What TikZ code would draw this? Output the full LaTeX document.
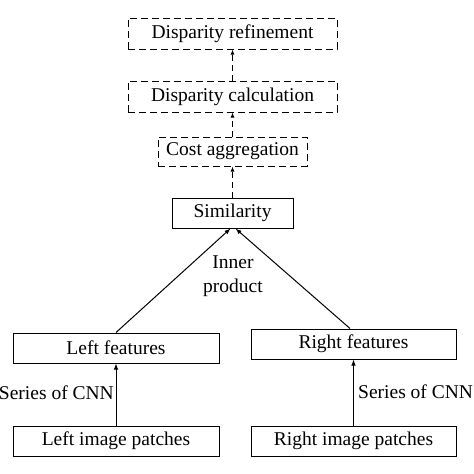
\documentclass[tikz,border=0pt]{standalone}
\usepackage{fontspec}
\setmainfont{Liberation Serif}
\usetikzlibrary{arrows.meta}
\begin{document}
\begin{tikzpicture}[x=1pt,y=-1pt,
  box/.style={draw, line width=1pt, inner sep=0pt, minimum height=30pt, font=\fontsize{19.5}{22}\selectfont},
  dbox/.style={box, dash pattern=on 7pt off 4pt},
  lbl/.style={inner sep=0pt, font=\fontsize{19.5}{24}\selectfont},
  arr/.style={-{Latex[length=6pt,width=4.5pt]}, line width=1pt},
  darr/.style={-{Latex[length=5pt,width=4pt]}, line width=1pt, dash pattern=on 6pt off 4pt}]
\useasboundingbox (0,0) rectangle (474,474);
\node[dbox, minimum width=209pt, minimum height=31pt] (ref) at (232.5,33.5) {Disparity refinement};
\node[dbox, minimum width=209pt, minimum height=31pt] (calc) at (232.5,96.5) {Disparity calculation};
\node[dbox, minimum width=149pt, minimum height=29pt] (cost) at (232.5,151.5) {Cost aggregation};
\node[box, minimum width=121pt] (sim) at (232.5,213) {Similarity};
\node[box, minimum width=206pt] (lf) at (116,348) {Left features};
\node[box, minimum width=205pt] (rf) at (353.5,344) {Right features};
\node[box, minimum width=206pt] (lp) at (116,441) {Left image patches};
\node[box, minimum width=205pt] (rp) at (353.5,441) {Right image patches};
\draw[darr] (calc.north) -- (ref.south);
\draw[darr] (cost.north) -- (calc.south);
\draw[darr] (sim.north) -- (cost.south);
\draw[arr] (lf.north) -- ([xshift=-2pt]sim.south);
\draw[arr] ([xshift=-3.5pt]rf.north) -- ([xshift=3pt]sim.south);
\draw[arr] (lp.north) -- (lf.south);
\draw[arr] (rp.north) -- (rf.south);
\node[lbl, align=center] (ip) at (233,276) {Inner\\product};
\node[lbl, anchor=east] (sl) at (114,393) {Series of CNN};
\node[lbl, anchor=west] (sr) at (358,392) {Series of CNN};
\end{tikzpicture}
\end{document}
